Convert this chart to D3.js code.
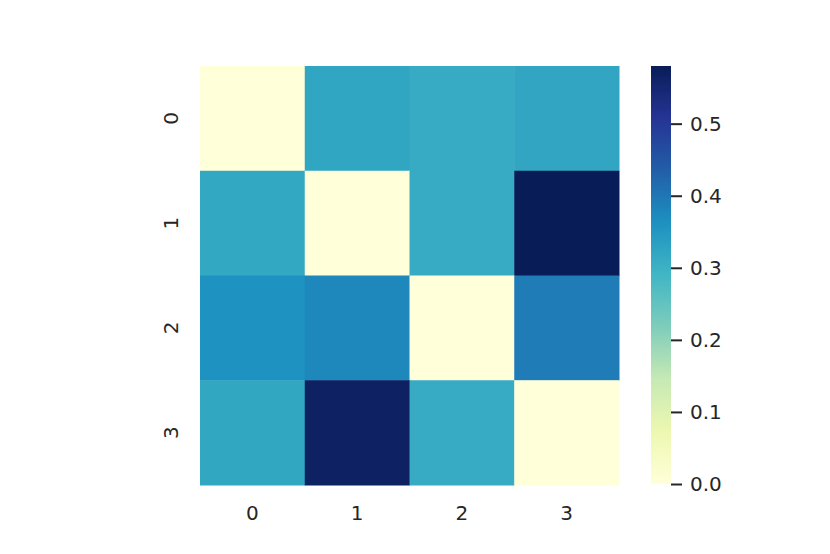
<!DOCTYPE html>
<html><head><meta charset="utf-8">
<script src="https://cdn.jsdelivr.net/npm/d3@7"></script>
<style>body{margin:0;background:#fff}text{font-family:"DejaVu Sans",sans-serif}</style>
</head><body><svg id="c" width="830" height="554"></svg>
<script>
const rowLabels = ["0","1","2","3"];
const colLabels = ["0","1","2","3"];
const values = [
  [0.000, 0.322, 0.311, 0.323],
  [0.318, 0.000, 0.311, 0.580],
  [0.360, 0.376, 0.000, 0.392],
  [0.320, 0.567, 0.311, 0.000]
];
const cbTicks = [0.0, 0.1, 0.2, 0.3, 0.4, 0.5];
const vmin = 0, vmax = 0.58;
const ylgnbu = ["#ffffd9","#edf8b1","#c7e9b4","#7fcdbb","#41b6c4","#1d91c0","#225ea8","#253494","#081d58"];

const svg = d3.select("#c");
const L = 200, T = 66, W = 419, H = 419;
const x = d3.scaleBand().domain(colLabels).range([L, L+W]);
const y = d3.scaleBand().domain(rowLabels).range([T, T+H]);
const color = d3.scaleLinear()
  .domain(ylgnbu.map((c,i)=> vmin + (vmax-vmin)*i/(ylgnbu.length-1)))
  .range(ylgnbu).interpolate(d3.interpolateRgb).clamp(true);

const cells = [];
values.forEach((row,i)=>row.forEach((v,j)=>cells.push({r:rowLabels[i], c:colLabels[j], v})));
svg.selectAll("rect.cell").data(cells).enter().append("rect")
  .attr("x", d=>x(d.c)).attr("y", d=>y(d.r))
  .attr("width", x.bandwidth()+0.5).attr("height", y.bandwidth()+0.5)
  .attr("fill", d=>color(d.v));

// x axis labels
svg.selectAll("text.xl").data(colLabels).enter().append("text")
  .attr("x", d=>x(d)+x.bandwidth()/2).attr("y", T+H+35)
  .attr("text-anchor","middle").attr("font-size",20).attr("fill","#262626").text(d=>d);
// y axis labels rotated
svg.selectAll("text.yl").data(rowLabels).enter().append("text")
  .attr("transform", d=>`translate(${L-22},${y(d)+y.bandwidth()/2}) rotate(-90)`)
  .attr("text-anchor","middle").attr("font-size",20).attr("fill","#262626").text(d=>d);

// colorbar
const cbX = 651, cbW = 20;
const cy = d3.scaleLinear().domain([vmin, vmax]).range([T+H-1, T]);
const defs = svg.append("defs");
const grad = defs.append("linearGradient").attr("id","g").attr("x1",0).attr("y1",1).attr("x2",0).attr("y2",0);
ylgnbu.forEach((c,i)=>grad.append("stop").attr("offset", i/(ylgnbu.length-1)).attr("stop-color", c));
svg.append("rect").attr("x", cbX).attr("y", T).attr("width", cbW).attr("height", H-1).attr("fill","url(#g)");
const ax = d3.axisRight(cy).tickValues(cbTicks).tickFormat(d3.format(".1f")).tickSize(11).tickPadding(8);
const g = svg.append("g").attr("transform",`translate(${cbX+cbW},0)`).call(ax);
g.select(".domain").remove();
g.selectAll(".tick line").attr("stroke","#262626").attr("stroke-width",2);
g.selectAll(".tick text").attr("font-size",20).attr("fill","#262626").attr("font-family","DejaVu Sans");
</script></body></html>
